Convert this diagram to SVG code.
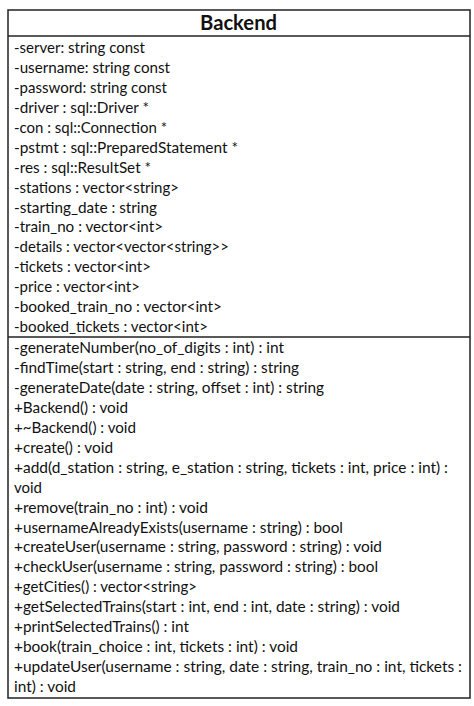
<svg xmlns="http://www.w3.org/2000/svg" width="474" height="706" viewBox="0 0 474 706">
<style>
.box{fill:#fff;stroke:#222;stroke-width:1.5}
.sep{stroke:#222;stroke-width:1.5}
.t{font-family:Lato,"Open Sans","Liberation Sans",sans-serif;font-size:15px;fill:#111}
.h{font-family:Lato,"Open Sans","Liberation Sans",sans-serif;font-size:20px;font-weight:bold;fill:#111}
</style>
<rect width="474" height="706" fill="#fff"/>
<g id="Backend">
<rect class="box" x="8" y="10" width="462" height="688"/>
<line class="sep" x1="8" y1="36" x2="470" y2="36"/>
<line class="sep" x1="8" y1="337" x2="470" y2="337"/>
<text class="h" x="200" y="30" textLength="77" lengthAdjust="spacingAndGlyphs">Backend</text>
<g class="t" lengthAdjust="spacingAndGlyphs">
<text x="14" y="53" textLength="131" lengthAdjust="spacingAndGlyphs">-server: string const</text>
<text x="14" y="73" textLength="156" lengthAdjust="spacingAndGlyphs">-username: string const</text>
<text x="14" y="93" textLength="153" lengthAdjust="spacingAndGlyphs">-password: string const</text>
<text x="14" y="113" textLength="135" lengthAdjust="spacingAndGlyphs">-driver : sql::Driver *</text>
<text x="14" y="133" textLength="153" lengthAdjust="spacingAndGlyphs">-con : sql::Connection *</text>
<text x="14" y="153" textLength="224" lengthAdjust="spacingAndGlyphs">-pstmt : sql::PreparedStatement *</text>
<text x="14" y="173" textLength="137" lengthAdjust="spacingAndGlyphs">-res : sql::ResultSet *</text>
<text x="14" y="193" textLength="165" lengthAdjust="spacingAndGlyphs">-stations : vector&lt;string&gt;</text>
<text x="14" y="213" textLength="143" lengthAdjust="spacingAndGlyphs">-starting_date : string</text>
<text x="14" y="232" textLength="149" lengthAdjust="spacingAndGlyphs">-train_no : vector&lt;int&gt;</text>
<text x="14" y="252" textLength="215" lengthAdjust="spacingAndGlyphs">-details : vector&lt;vector&lt;string&gt;&gt;</text>
<text x="14" y="272" textLength="137" lengthAdjust="spacingAndGlyphs">-tickets : vector&lt;int&gt;</text>
<text x="14" y="292" textLength="126" lengthAdjust="spacingAndGlyphs">-price : vector&lt;int&gt;</text>
<text x="14" y="312" textLength="208" lengthAdjust="spacingAndGlyphs">-booked_train_no : vector&lt;int&gt;</text>
<text x="14" y="332" textLength="194" lengthAdjust="spacingAndGlyphs">-booked_tickets : vector&lt;int&gt;</text>
<text x="14" y="353" textLength="270" lengthAdjust="spacingAndGlyphs">-generateNumber(no_of_digits : int) : int</text>
<text x="14" y="373" textLength="285" lengthAdjust="spacingAndGlyphs">-findTime(start : string, end : string) : string</text>
<text x="14" y="393" textLength="310" lengthAdjust="spacingAndGlyphs">-generateDate(date : string, offset : int) : string</text>
<text x="14" y="413" textLength="114" lengthAdjust="spacingAndGlyphs">+Backend() : void</text>
<text x="14" y="433" textLength="122" lengthAdjust="spacingAndGlyphs">+~Backend() : void</text>
<text x="14" y="453" textLength="99" lengthAdjust="spacingAndGlyphs">+create() : void</text>
<text x="14" y="473" textLength="434" lengthAdjust="spacingAndGlyphs">+add(d_station : string, e_station : string, tickets : int, price : int) :</text>
<text x="14" y="493" textLength="28" lengthAdjust="spacingAndGlyphs">void</text>
<text x="14" y="513" textLength="194" lengthAdjust="spacingAndGlyphs">+remove(train_no : int) : void</text>
<text x="14" y="533" textLength="329" lengthAdjust="spacingAndGlyphs">+usernameAlreadyExists(username : string) : bool</text>
<text x="14" y="552" textLength="368" lengthAdjust="spacingAndGlyphs">+createUser(username : string, password : string) : void</text>
<text x="14" y="572" textLength="364" lengthAdjust="spacingAndGlyphs">+checkUser(username : string, password : string) : bool</text>
<text x="14" y="592" textLength="183" lengthAdjust="spacingAndGlyphs">+getCities() : vector&lt;string&gt;</text>
<text x="14" y="612" textLength="386" lengthAdjust="spacingAndGlyphs">+getSelectedTrains(start : int, end : int, date : string) : void</text>
<text x="14" y="632" textLength="175" lengthAdjust="spacingAndGlyphs">+printSelectedTrains() : int</text>
<text x="14" y="652" textLength="284" lengthAdjust="spacingAndGlyphs">+book(train_choice : int, tickets : int) : void</text>
<text x="14" y="672" textLength="448" lengthAdjust="spacingAndGlyphs">+updateUser(username : string, date : string, train_no : int, tickets :</text>
<text x="14" y="692" textLength="62" lengthAdjust="spacingAndGlyphs">int) : void</text>
</g>
</g>
<g id="connectors"/>
</svg>
